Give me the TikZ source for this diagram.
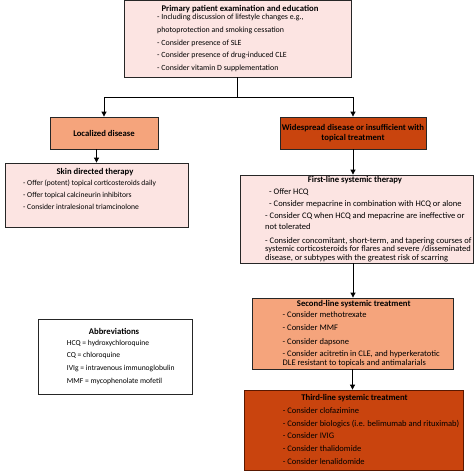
\documentclass[tikz,border=0pt]{standalone}
\usepackage{fontspec}
\setmainfont{Carlito}
\usetikzlibrary{arrows.meta, positioning, calc}

\definecolor{palepink}{HTML}{FCE4E2}
\definecolor{salmon}{HTML}{F5A47C}
\definecolor{rust}{HTML}{C9440E}
\definecolor{rustedge}{HTML}{5A1800}

\lineskiplimit=-10pt

\tikzset{
  frame/.style={draw=black!85, line width=0.8pt, inner sep=0pt},
  boxtitle/.style={font=\fontsize{8.7}{9.7}\selectfont\bfseries, inner sep=0pt, align=center},
  boxlist/.style 2 args={font=\fontsize{#1}{#2}\selectfont, inner sep=0pt, align=left, anchor=north west},
  arr/.style={-{Triangle[length=5pt,width=5pt]}, line width=0.8pt}
}

\begin{document}
\begin{tikzpicture}[x=1pt, y=-1pt]
\useasboundingbox (0,0) rectangle (474,474);

% primary examination box
\node[frame, fill=palepink, minimum width=227pt, minimum height=77pt] (exam) at (237.5,38.5) {};
\node[boxtitle] (examtitle) at (240,8.7) {Primary patient examination and education};
\node[boxlist={7.9}{12.7}] (examlist) at (157,14.1) {{}- Including discussion of lifestyle changes e.g.,\\
  photoprotection and smoking cessation\\
  {}- Consider presence of SLE\\
  {}- Consider presence of drug-induced CLE\\
  {}- Consider vitamin D supplementation};

% two branches
\node[frame, fill=salmon, minimum width=108pt, minimum height=32pt, boxtitle] (local) at (104,133) {Localized disease};
\node[frame, fill=rust, minimum width=146pt, minimum height=32pt, boxtitle] (wide) at (353,133) {Widespread disease or insufficient with\\topical treatment};

% skin directed therapy
\node[frame, fill=palepink, minimum width=183pt, minimum height=64pt] (skin) at (96.5,195) {};
\node[boxtitle] (skintitle) at (95,172) {Skin directed therapy};
\node[boxlist={7.6}{12}] (skinlist) at (23,179.9) {{}- Offer (potent) topical corticosteroids daily\\
  {}- Offer topical calcineurin inhibitors\\
  {}- Consider intralesional triamcinolone};

% first-line
\node[frame, fill=palepink, minimum width=233pt, minimum height=88pt] (first) at (356.5,219) {};
\node[boxtitle] (firsttitle) at (355,180) {First-line systemic therapy};
\node[boxlist={8.5}{8.4}] (firstlist) at (265,188.2) {\hspace*{4pt}- Offer HCQ\\[3.9pt]
  \hspace*{4pt}- Consider mepacrine in combination with HCQ or alone\\[3.9pt]
  {}- Consider CQ when HCQ and mepacrine are ineffective or\\[2.6pt]
  not tolerated\\[5pt]
  {}- Consider concomitant, short-term, and tapering courses of\\
  systemic corticosteroids for flares and severe /disseminated\\
  disease, or subtypes with the greatest risk of scarring};

% second-line
\node[frame, fill=salmon, minimum width=201pt, minimum height=71pt] (second) at (352.5,333.5) {};
\node[boxtitle] (secondtitle) at (353.7,304) {Second-line systemic treatment};
\node[boxlist={8.5}{9}] (secondlist) at (282.5,311.2) {{}- Consider methotrexate\\[4.6pt]
  {}- Consider MMF\\[4.4pt]
  {}- Consider dapsone\\[3.3pt]
  {}- Consider acitretin in CLE, and hyperkeratotic\\
  DLE resistant to topicals and antimalarials};

% third-line
\node[frame, draw=rustedge, fill=rust, minimum width=219pt, minimum height=80pt] (third) at (353.5,430) {};
\node[boxtitle] (thirdtitle) at (354.5,397.7) {Third-line systemic treatment};
\node[boxlist={8.5}{12.7}] (thirdlist) at (282.7,407.2) {{}- Consider clofazimine\\
  {}- Consider biologics (i.e. belimumab and rituximab)\\
  {}- Consider IVIG\\
  {}- Consider thalidomide\\
  {}- Consider lenalidomide};

% abbreviations
\node[frame, fill=white, minimum width=154pt, minimum height=75pt] (abbrev) at (115,356.5) {};
\node[boxtitle] (abbrevtitle) at (114,331) {Abbreviations};
\node[boxlist={7.6}{12.6}] (abbrevlist) at (66.7,339.9) {HCQ = hydroxychloroquine\\
  CQ = chloroquine\\
  IVIg = intravenous immunoglobulin\\
  MMF = mycophenolate mofetil};

% connectors
\coordinate (split) at (237.5,97);
\draw[line width=0.8pt] (exam.south) -- (split);
\draw[arr] (split) -| (local.north);
\draw[arr] (split) -| (wide.north);
\draw[arr] (local.south -| skin.north) -- (skin.north);
\draw[arr] (wide.south) -- (wide.south |- first.north);
\draw[arr] (wide.south |- first.south) -- (wide.south |- second.north);
\draw[arr] (second.south) -- (second.south |- third.north);

\end{tikzpicture}
\end{document}
